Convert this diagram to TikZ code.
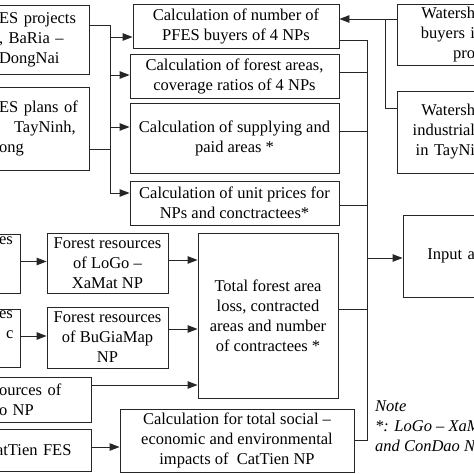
\documentclass[tikz,border=0pt]{standalone}
\usepackage{fontspec}
\setmainfont{Liberation Serif}
\usetikzlibrary{arrows.meta}
\newcommand{\boxfont}{\fontsize{16.5}{20}\selectfont}
\tikzset{
  box/.style={draw=black!85, line width=0.9pt, inner sep=0pt, align=center, font=\boxfont},
  cutleft/.style={box, inner xsep=4pt, align=left},
  cutright/.style={box, inner xsep=4pt, align=right},
  link/.style={draw=black!85, line width=0.9pt},
  arr/.style={link, -{Triangle[length=10pt,width=7.5pt]}}
}

\begin{document}
\begin{tikzpicture}[x=1pt, y=-1pt]
  \useasboundingbox (0,0) rectangle (474,474);
  \clip (0,0) rectangle (474,474);
  \fill[white] (0,0) rectangle (474,474);

  % sources on the left (cut by the frame)
  \node[cutleft, text width=86pt, minimum height=69pt] (fesProj) at (42,39.5) {ES projects\\, BaRia –\\DongNai};
  \node[cutleft, text width=86pt, minimum height=83pt] (fesPlan) at (42,128.5) {ES plans of\\\hspace*{15pt}TayNinh,\\ong};
  \node[cutleft, text width=17pt, minimum height=59pt] (srcLoGo) at (7.5,263.5) {es\\\strut\\\strut};
  \node[cutleft, text width=17pt, minimum height=58pt] (srcBuGia) at (7.5,338) {es\\\hspace*{7pt}c\\\strut};
  \node[cutleft, text width=88pt, minimum height=45pt] (srcConDao) at (43,399.5) {ources of\\o NP};
  \node[cutleft, text width=91pt, minimum height=42pt] (catTienFes) at (41.5,450) {atTien FES};

  % calculations in the middle
  \node[box, minimum width=206pt, minimum height=44pt] (calcBuyers) at (236,26) {Calculation of number of\\PFES buyers of 4 NPs};
  \node[box, minimum width=209pt, minimum height=44pt] (calcArea) at (234.5,76) {Calculation of forest areas,\\coverage ratios of 4 NPs};
  \node[box, minimum width=209pt, minimum height=70pt] (calcSupply) at (234.5,138) {Calculation of supplying and\\paid areas *};
  \node[box, minimum width=209pt, minimum height=44pt] (calcPrice) at (234.5,203) {Calculation of unit prices for\\NPs and conctractees*};
  \node[box, minimum width=121pt, minimum height=60pt] (resLoGo) at (107.5,263) {Forest resources\\of LoGo –\\XaMat NP};
  \node[box, minimum width=121pt, minimum height=61pt] (resBuGia) at (107.5,337.5) {Forest resources\\of BuGiaMap\\NP};
  \node[box, minimum width=140pt, minimum height=165pt] (totalLoss) at (268,315.5) {Total forest area\\loss, contracted\\areas and number\\of contractees *};
  \node[box, minimum width=234pt, minimum height=63pt] (calcImpact) at (237,440.5) {Calculation for total social –\\economic and environmental\\impacts of~ CatTien NP};

  % right side (cut by the frame)
  \node[cutright, text width=74pt, minimum height=61pt] (wsBuyers) at (438,34.5) {Watersh\\buyers i\\pro};
  \node[cutright, text width=74pt, minimum height=82pt] (wsIndustry) at (438,132) {Watersh\\industrial\\in TayNi};
  \node[cutright, text width=68pt, minimum height=82pt] (inputBox) at (441,256) {Input a};
  \node[anchor=north west, inner sep=0pt, align=left, font=\boxfont\itshape] (note) at (375,400) {Note\\*: LoGo – XaM\\and ConDao N};

  % left bus
  \coordinate (lbus) at (110,0);
  \path ([yshift=14.5pt]fesProj.east) coordinate (oProj);
  \path ([yshift=-20.5pt]fesPlan.east) coordinate (oPlan);
  \path ([yshift=10pt]calcPrice.west) coordinate (iPrice);
  \draw[link] (oProj) -- (oProj -| lbus) -- (iPrice -| lbus);
  \draw[link] (oPlan) -- (oPlan -| lbus);
  \foreach \n/\dy in {calcBuyers/-11, calcArea/1, calcSupply/11, calcPrice/10} {
    \path ([yshift=\dy pt]\n.west) coordinate (tip);
    \draw[arr] (tip -| lbus) -- (tip);
  }

  % watershed buyers
  \coordinate (wbus) at (385,0);
  \path ([yshift=15.5pt]wsBuyers.west) coordinate (oWs);
  \path ([yshift=24pt]wsIndustry.west) coordinate (oInd);
  \draw[arr] (oWs) -- (oWs -| calcBuyers.east);
  \draw[link] (oInd) -- (oInd -| wbus) -- (oWs -| wbus);

  % right bus
  \coordinate (rbus) at (367,0);
  \path ([yshift=-14pt]calcBuyers.east) coordinate (oBuyers);
  \path (calcImpact.east) coordinate (oImpact);
  \draw[link] (oBuyers) -- (oBuyers -| rbus) -- (oImpact -| rbus) -- (oImpact);
  \foreach \n/\dy in {calcArea/4, calcSupply/7, calcPrice/-2, totalLoss/6.5} {
    \path ([yshift=\dy pt]\n.east) coordinate (o);
    \draw[link] (o) -- (o -| rbus);
  }
  \path ([yshift=-2pt]inputBox.west) coordinate (iInput);
  \draw[arr] (iInput -| rbus) -- (iInput);

  % forest resources and totals
  \foreach \s/\t/\dy in {srcLoGo/resLoGo/2, srcBuGia/resBuGia/2, resLoGo/totalLoss/3,
      resBuGia/totalLoss/8.5, srcConDao/totalLoss/14.5, catTienFes/calcImpact/3} {
    \path ([yshift=\dy pt]\s.east) coordinate (o);
    \draw[arr] (o) -- (o -| \t.west);
  }
\end{tikzpicture}
\end{document}
